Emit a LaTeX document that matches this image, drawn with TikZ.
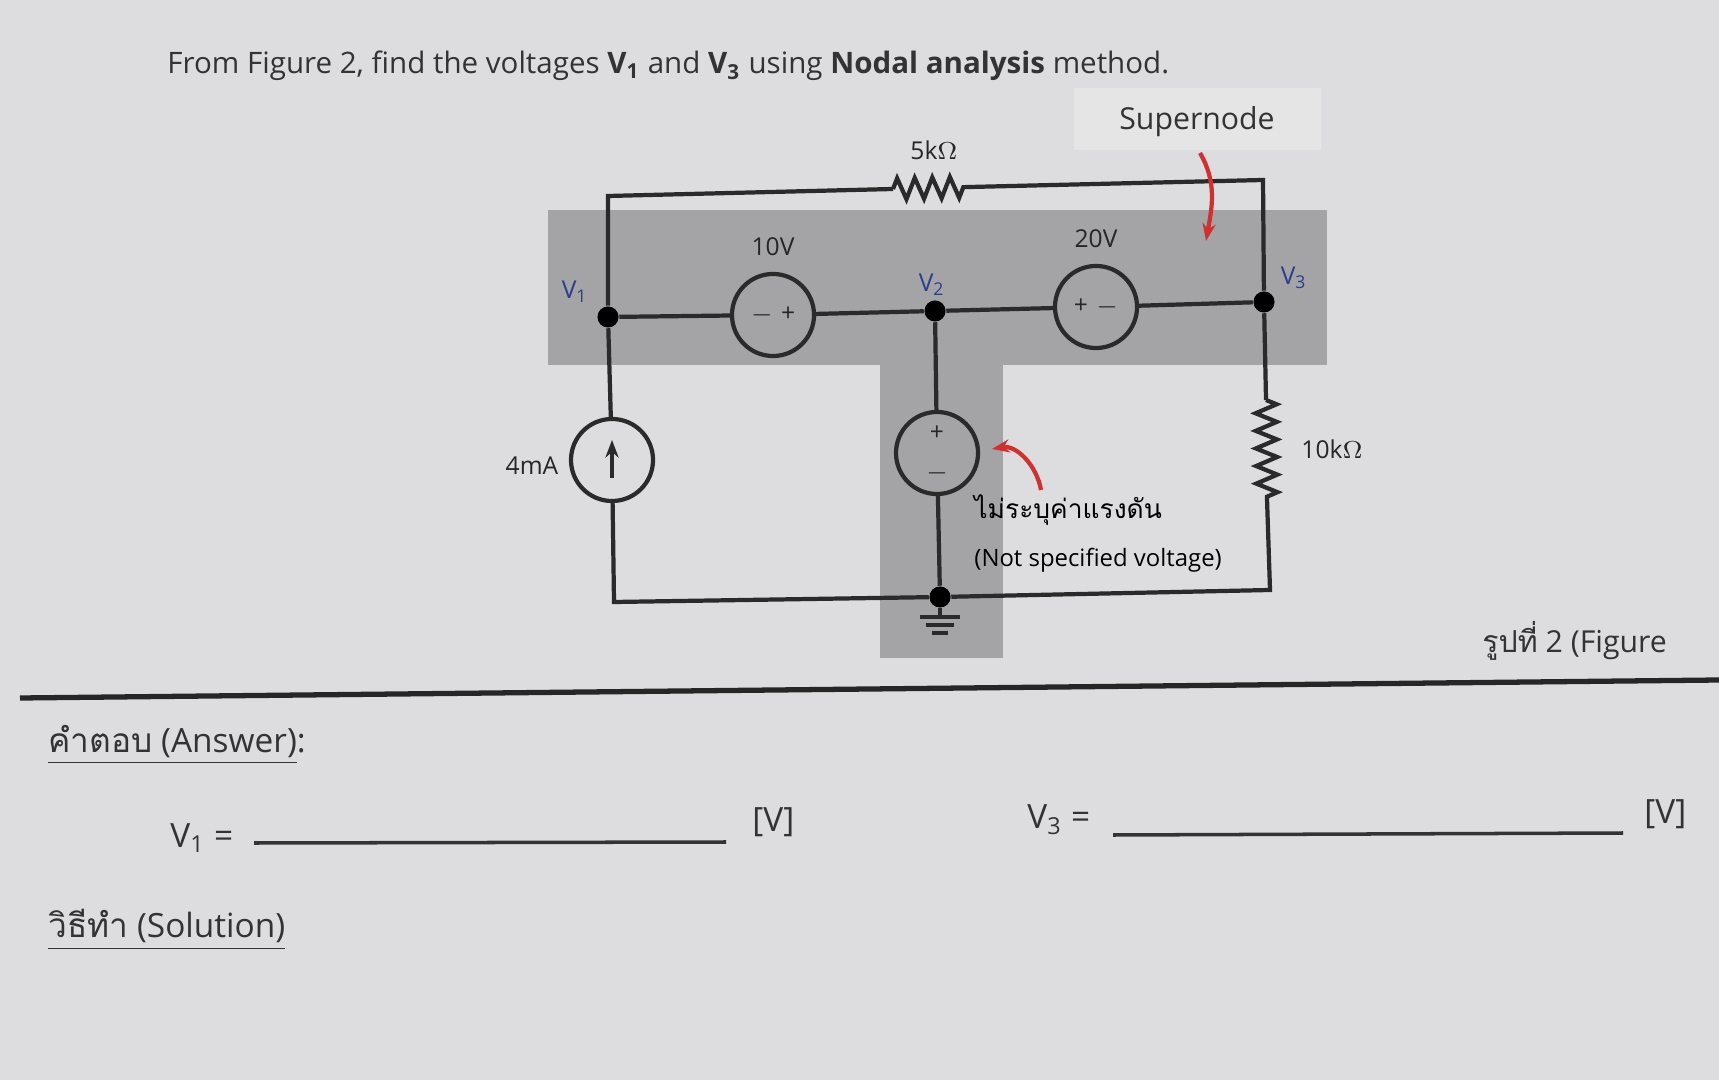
\documentclass[tikz,border=0pt]{standalone}
\usepackage{fontspec}
\setmainfont{Open Sans}
\newfontfamily\thai[Script=Thai]{Loma}
\usetikzlibrary{decorations.pathmorphing,arrows.meta}
\definecolor{bg}{HTML}{DDDDDF}
\definecolor{greyband}{HTML}{A4A4A6}
\definecolor{wire}{HTML}{2A2A2A}
\definecolor{vb}{HTML}{2B3E8C}
\definecolor{redar}{HTML}{D03030}
\tikzset{
  w/.style={draw=wire,line width=1.2pt},
  src/.style={circle,draw=wire,line width=1.2pt,minimum size=0.82cm,inner sep=0pt,fill=greyband},
  dot/.style={circle,fill=black,inner sep=0pt,minimum size=6pt},
  lab/.style={font=\fontsize{7}{8}\selectfont,text=black!85},
  vlab/.style={font=\fontsize{7}{8}\selectfont,text=vb},
  res/.style={w,decorate,decoration={zigzag,segment length=5pt,amplitude=3pt}},
  big/.style={font=\fontsize{9.5}{11}\selectfont,text=black!80,anchor=west},
  red/.style={draw=redar,line width=1.2pt,-{Stealth[length=5pt]}}
}
\begin{document}
\begin{tikzpicture}[x=0.01cm,y=-0.01cm]
\fill[bg] (0,0) rectangle (1719,1080);
\useasboundingbox (0,0) rectangle (1719,1080);
\node[anchor=west,font=\fontsize{8.4}{10}\selectfont,text=black!80] (title) at (155,66) {From Figure 2, find the voltages \textbf{V\textsubscript{1}} and \textbf{V\textsubscript{3}} using \textbf{Nodal analysis} method.};
% shading
\fill[greyband] (548,210) rectangle (1327,365);
\fill[greyband] (880,365) rectangle (1003,658);
\fill[black!10] (1074,88) rectangle (1321,150);
\node[font=\fontsize{8.6}{10}\selectfont,text=black!80] (sn) at (1197,122) {Supernode};
% nodes
\coordinate (tl) at (608,196);
\coordinate (tr) at (1263,180);
\node[dot] (v1) at (608,317) {};
\node[dot] (v2) at (935,311) {};
\node[dot] (v3) at (1264,302) {};
\node[dot] (gnd) at (940,597) {};
\coordinate (bl) at (614,602);
\coordinate (br) at (1270,590);
\node[src] (s10) at (773,315) {};
\node[lab] at (773,315) {$-$\,\,+};
\node[src] (s20) at (1096,307) {};
\node[lab] at (1096,307) {+\,\,$-$};
\node[src,fill=bg] (si) at (612,460) {};
\draw[w,-{Stealth[length=5pt]}] (612,478) -- (612,440);
\node[src] (sv) at (937,453) {};
\node[lab] at (937,433) {+};
\node[lab] at (937,473) {$-$};
\coordinate (r1a) at (893,189);
\coordinate (r1b) at (970,187);
\coordinate (r2a) at (1266,400);
\coordinate (r2b) at (1267,499);
% wires
\draw[w] (v1) -- (tl) -- (r1a);
\draw[res] (r1a) -- (r1b);
\draw[w] (r1b) -- (tr) -- (v3);
\draw[w] (v1) -- (s10) -- (v2) -- (s20) -- (v3);
\draw[w] (v1) -- (si) -- (bl) -- (gnd) -- (br) -- (r2b);
\draw[w] (v3) -- (r2a);
\draw[res] (r2a) -- (r2b);
\draw[w] (v2) -- (sv) -- (gnd);
\draw[w] (gnd) -- (940,617);
\draw[w] (920,617) -- (960,617);
\draw[w] (926,625) -- (954,625);
\draw[w] (932,633) -- (948,633);
% labels
\node[lab] at (934,150) {5k$\Omega$};
\node[lab] at (532,466) {4mA};
\node[lab] at (1332,449) {10k$\Omega$};
\node[lab] at (773,247) {10V};
\node[lab] at (1096,239) {20V};
\node[vlab] at (575,292) {V\textsubscript{1}};
\node[vlab] at (932,285) {V\textsubscript{2}};
\node[vlab] at (1294,278) {V\textsubscript{3}};
\node[anchor=west,font=\thai\fontsize{7.5}{8}\selectfont] (th) at (962,510) {ไม่ระบุค่าแรงดัน};
\node[anchor=west,font=\fontsize{6.8}{8}\selectfont] (ns) at (962,560) {(Not specified voltage)};
\draw[red] (1041,490) to[out=100,in=10] (992,449);
\draw[red] (1200,153) to[out=-60,in=80] (1206,241);
\node[anchor=west,font=\fontsize{8.6}{10}\selectfont,text=black!80] (fig) at (1470,641) {{\thai รูปที่} 2 (Figure};
\draw[line width=1.5pt,black!85] (20,698) -- (1719,680);
\node[big] (ans) at (36,745) {\underline{{\thai คำตอบ} (Answer)}:};
\node[big] (v1a) at (158,838) {V\textsubscript{1} =};
\draw[line width=1pt,black!80] (254,843) -- (726,842);
\node[big] (u1) at (740,822) {[V]};
\node[big] (v3a) at (1015,820) {V\textsubscript{3} =};
\draw[line width=1pt,black!80] (1113,835) -- (1623,833);
\node[big] (u3) at (1632,814) {[V]};
\node[big] (sol) at (36,930) {\underline{{\thai วิธีทำ} (Solution)}};
\end{tikzpicture}
\end{document}
